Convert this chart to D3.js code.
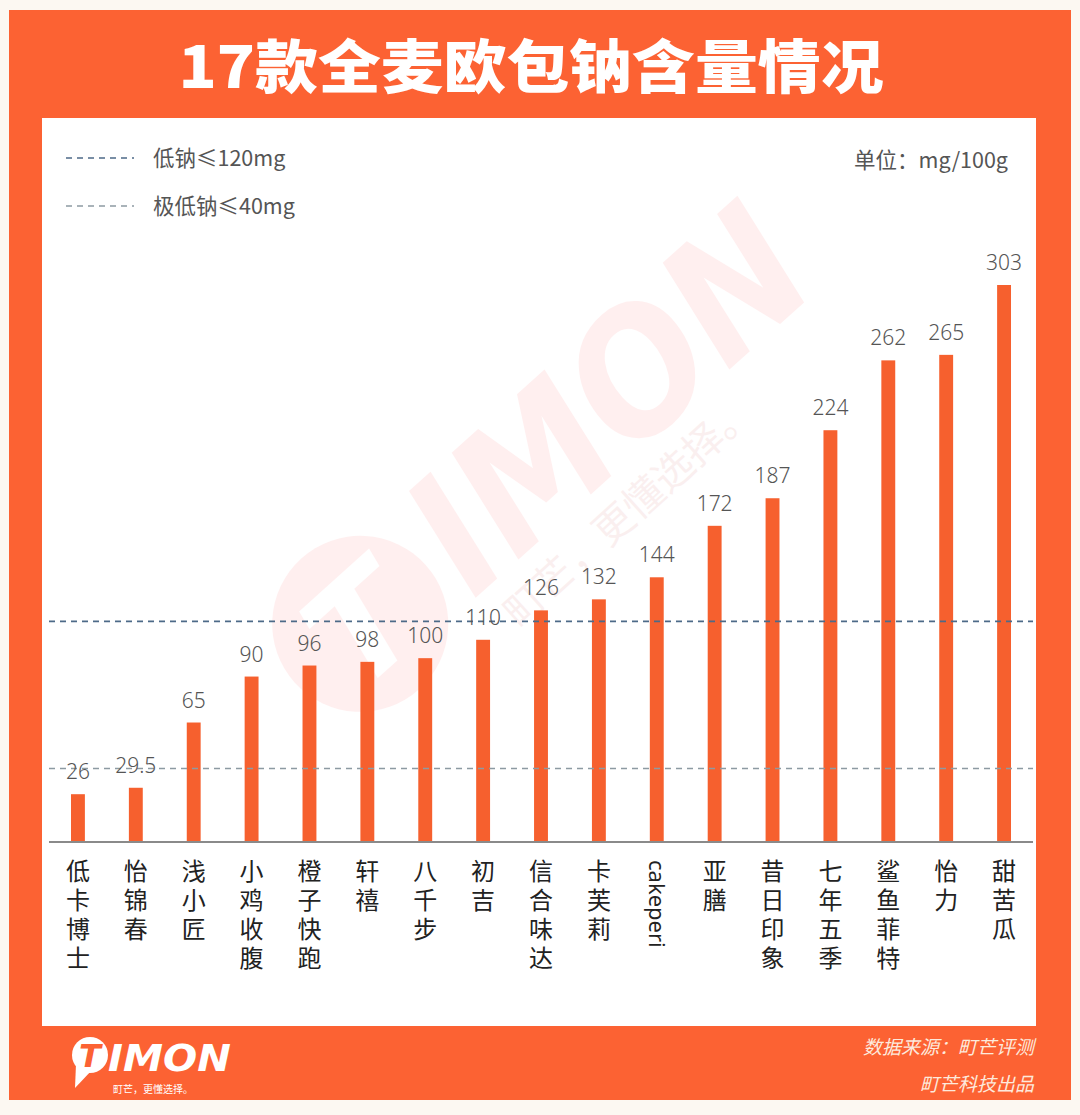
<!DOCTYPE html>
<html><head><meta charset="utf-8">
<script src="https://cdn.jsdelivr.net/npm/d3@7/dist/d3.min.js"></script>
<style>body{margin:0;background:#fcf8f2}svg{display:block}</style>
</head><body>
<svg id="c" width="1080" height="1115"></svg>
<script>
const brands = ["低卡博士","怡锦春","浅小匠","小鸡收腹","橙子快跑","轩禧","八千步","初吉","信合味达","卡芙莉","cakeperi","亚膳","昔日印象","七年五季","鲨鱼菲特","怡力","甜苦瓜"];
const sodium = [26,29.5,65,90,96,98,100,110,126,132,144,172,187,224,262,265,303];
const refValues = [120,40];
const refLabels = ["低钠≤120mg","极低钠≤40mg"];
const refColors = ["#4d6a88","#8d9aa2"];
const title = "17款全麦欧包钠含量情况";
const unitLabel = "单位：mg/100g";
const sourceLines = ["数据来源：町芒评测","町芒科技出品"];

const svg = d3.select("#c");
const orange = "#fc6233";
const font = "'Noto Sans CJK SC','Noto Sans',sans-serif";

svg.append("rect").attr("x",9).attr("y",10).attr("width",1062).attr("height",1090).attr("fill",orange);
svg.append("rect").attr("x",42).attr("y",118).attr("width",994).attr("height",908).attr("fill","#fff");

// title
svg.append("text").attr("x",531).attr("y",88).attr("text-anchor","middle")
  .attr("font-family",font).attr("font-weight",900).attr("font-size",58)
  .attr("fill","#fff").attr("textLength",705).attr("lengthAdjust","spacingAndGlyphs").text(title);

// watermark
const wm = svg.append("g").attr("transform","translate(520,480) rotate(-42)").attr("opacity",0.06);
wm.append("circle").attr("cx",-215).attr("cy",0).attr("r",88).attr("fill","#f00");
wm.append("text").attr("x",-215).attr("y",52).attr("text-anchor","middle").attr("font-family","'DejaVu Sans'").attr("font-weight",700).attr("font-style","italic").attr("font-size",140).attr("fill","#fff").text("T");
wm.append("text").attr("x",-115).attr("y",58).attr("font-family","'DejaVu Sans'").attr("font-weight",700).attr("font-style","italic").attr("font-size",170).attr("fill","#f00").attr("textLength",470).attr("lengthAdjust","spacingAndGlyphs").text("IMON");
wm.append("text").attr("x",-100).attr("y",110).attr("font-family",font).attr("font-size",40).attr("fill","#b00").text("町芒，更懂选择。");

// scales
const x = d3.scaleBand().domain(brands).range([49,1033]).paddingInner(0.76).paddingOuter(0.38);
const y = d3.scaleLinear().domain([0,303]).range([842,285]);

// bars
svg.append("g").selectAll("rect").data(sodium).join("rect")
  .attr("x",(d,i)=>x(brands[i])).attr("width",x.bandwidth())
  .attr("y",d=>y(d)).attr("height",d=>y(0)-y(d)).attr("fill","#f6602e");

// ref lines
refValues.forEach((v,i)=>{
  svg.append("line").attr("x1",49).attr("x2",1033).attr("y1",y(v)).attr("y2",y(v))
    .attr("stroke",refColors[i]).attr("stroke-width",1.6).attr("stroke-dasharray","6,5");
});

// value labels
svg.append("g").selectAll("text").data(sodium).join("text")
  .attr("x",(d,i)=>x(brands[i])+x.bandwidth()/2).attr("y",d=>y(d)-15)
  .attr("text-anchor","middle").attr("font-family","'Noto Sans',sans-serif").attr("font-weight",300).attr("font-size",21)
  .attr("fill","#555").text(d=>d);

// baseline axis
const xAxis = svg.append("g").attr("transform",`translate(0,${y(0)})`).call(d3.axisBottom(x).tickSize(0).tickFormat(""));
xAxis.select(".domain").attr("stroke","#8a8a8a").attr("stroke-width",2).attr("d","M49,0H1033");

// category labels (vertical, stacked characters)
const lab = svg.append("g");
brands.forEach(b=>{
  const cx = x(b)+x.bandwidth()/2;
  if (/^[a-z]+$/i.test(b)) {
    lab.append("text").attr("transform",`translate(${cx-8},860) rotate(90)`)
      .attr("font-family","'Noto Sans',sans-serif").attr("font-size",22).attr("fill","#222").text(b);
  } else {
    [...b].forEach((ch,j)=>{
      lab.append("text").attr("x",cx).attr("y",880+j*29).attr("text-anchor","middle")
        .attr("font-family",font).attr("font-size",24).attr("fill","#222").text(ch);
    });
  }
});

// legend
refLabels.forEach((t,i)=>{
  const yy = 158 + i*48;
  svg.append("line").attr("x1",66).attr("x2",134).attr("y1",yy).attr("y2",yy)
    .attr("stroke",refColors[i]).attr("stroke-width",1.6).attr("stroke-dasharray","6,5");
  svg.append("text").attr("x",153).attr("y",yy+8).attr("font-family",font).attr("font-size",21.5)
    .attr("fill","#555").text(t);
});
svg.append("text").attr("x",1008).attr("y",168).attr("text-anchor","end").attr("font-family",font)
  .attr("font-size",21.5).attr("fill","#555").text(unitLabel);

// source
sourceLines.forEach((t,i)=>{
  svg.append("text").attr("x",1034).attr("y",1054+i*37).attr("text-anchor","end")
    .attr("font-family",font).attr("font-size",19).attr("font-style","italic")
    .attr("fill","#fde9dc").text(t);
});

// bottom logo
const lg = svg.append("g");
lg.append("path").attr("d","M76,1064 L75,1088 L92,1070 z").attr("fill","#fff");
lg.append("circle").attr("cx",90).attr("cy",1055).attr("r",18).attr("fill","#fff");
lg.append("text").attr("x",90).attr("y",1067).attr("text-anchor","middle").attr("font-family","'DejaVu Sans'")
  .attr("font-weight",700).attr("font-style","italic").attr("font-size",32).attr("fill",orange).text("T");
lg.append("text").attr("x",108).attr("y",1071).attr("font-family","'DejaVu Sans'")
  .attr("font-weight",700).attr("font-style","italic").attr("font-size",38).attr("fill","#fff")
  .attr("textLength",123).attr("lengthAdjust","spacingAndGlyphs").text("IMON");
lg.append("text").attr("x",113).attr("y",1093).attr("font-family",font).attr("font-size",10).attr("fill","#fff").text("町芒，更懂选择。");
</script>
</body></html>
